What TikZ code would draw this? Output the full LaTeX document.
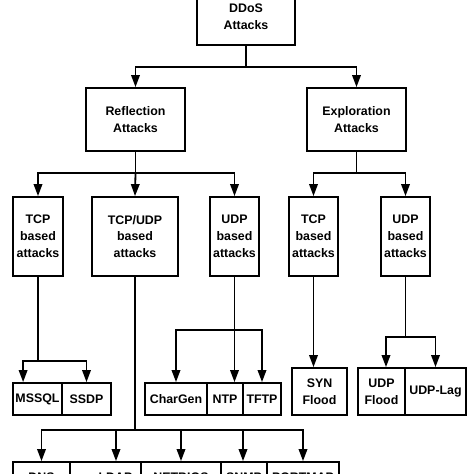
\documentclass[tikz,border=0pt]{standalone}
\usepackage{fontspec}
\setmainfont{Liberation Sans}
\usetikzlibrary{arrows.meta}
\begin{document}
\begin{tikzpicture}[x=1pt,y=1pt,
  box/.style={draw=black, line width=1.8pt, inner sep=0pt, align=center,
    font=\bfseries\fontsize{12.4}{16.8}\selectfont},
  conn/.style={draw=black, line width=1.8pt},
  arr/.style={conn, -{Triangle[length=12pt,width=8.5pt]}}]
\useasboundingbox (0,0) rectangle (474,-474);
\fill[white] (0,0) rectangle (474,-474);
% level 0
\node[box, minimum width=98pt, minimum height=57pt] (ddos) at (246,-16.5) {DDoS\\Attacks};
% level 1
\node[box, minimum width=99pt, minimum height=63pt] (refl) at (135.5,-119.5) {Reflection\\Attacks};
\node[box, minimum width=99pt, minimum height=63pt] (expl) at (356.5,-119.5) {Exploration\\Attacks};
% level 2
\node[box, minimum width=50pt, minimum height=79pt] (tcpa) at (38,-236.5) {TCP\\based\\attacks};
\node[box, minimum width=86pt, minimum height=79pt] (tcpudp) at (135,-236.5) {TCP/UDP\\based\\attacks};
\node[box, minimum width=49pt, minimum height=79pt] (udpa) at (234.5,-236.5) {UDP\\based\\attacks};
\node[box, minimum width=49pt, minimum height=79pt] (tcpb) at (313.5,-236.5) {TCP\\based\\attacks};
\node[box, minimum width=49pt, minimum height=79pt] (udpb) at (405.5,-236.5) {UDP\\based\\attacks};
% level 3
\node[box, minimum width=49pt, minimum height=32pt] (mssql) at (37.5,-399) {MSSQL};
\node[box, minimum width=49pt, minimum height=32pt] (ssdp) at (86.5,-399) {SSDP};
\node[box, minimum width=62pt, minimum height=32pt] (chargen) at (176,-399) {CharGen};
\node[box, minimum width=36pt, minimum height=32pt] (ntp) at (225,-399) {NTP};
\node[box, minimum width=38pt, minimum height=32pt] (tftp) at (262,-399) {TFTP};
\node[box, minimum width=55pt, minimum height=47pt] (syn) at (319.5,-391.5) {SYN\\Flood};
\node[box, minimum width=47pt, minimum height=47pt] (udpflood) at (381.5,-391.5) {UDP\\Flood};
\node[box, minimum width=61pt, minimum height=47pt] (udplag) at (435.5,-391.5) {UDP-Lag};
% bottom row (cut off by the page edge, as in the reference)
\node[box, minimum width=57pt, minimum height=30pt] (dns) at (41.5,-477) {DNS};
\node[box, minimum width=71pt, minimum height=30pt] (ldap) at (105.5,-477) {\hspace*{20pt}LDAP};
\node[box, minimum width=80pt, minimum height=30pt] (netbios) at (181,-477) {NETBIOS};
\node[box, minimum width=46pt, minimum height=30pt] (snmp) at (244,-477) {SNMP};
\node[box, minimum width=72pt, minimum height=30pt] (portmap) at (303,-477) {PORTMAP};
% junctions
\coordinate (j0) at (246,-67);
\coordinate (jr) at (135.5,-173);
\coordinate (je) at (356.5,-173);
\coordinate (j1) at (38,-361);
\coordinate (j2) at (234.5,-330);
\coordinate (j3) at (405.5,-337);
\coordinate (j4) at (135,-430);
% connectors
\draw[conn] (ddos.south) -- (j0);
\draw[arr] (j0) -| (refl.north);
\draw[arr] (j0) -| (expl.north);
\draw[conn] (refl.south) -- (jr);
\draw[arr] (jr) -| (tcpa.north);
\draw[arr] (jr) -- (tcpudp.north);
\draw[arr] (jr) -| (udpa.north);
\draw[conn] (expl.south) -- (je);
\draw[arr] (je) -| (tcpb.north);
\draw[arr] (je) -| (udpb.north);
\draw[conn] (tcpa.south) -- (j1);
\draw[arr] (j1) -| ([xshift=11pt]mssql.north west);
\draw[arr] (j1) -| (ssdp.north);
\draw[arr] (udpa.south) -- (udpa.south |- ntp.north);
\draw[arr] (j2) -| (chargen.north);
\draw[arr] (j2) -| (tftp.north);
\draw[arr] (tcpb.south) -- (tcpb.south |- syn.north);
\draw[conn] (udpb.south) -- (j3);
\draw[arr] (j3) -| ([xshift=4.5pt]udpflood.north);
\draw[arr] (j3) -| (udplag.north);
\draw[conn] (tcpudp.south) -- (j4);
\draw[arr] (j4) -| (dns.north);
\draw[arr] (j4) -| ([xshift=10.5pt]ldap.north);
\draw[arr] (j4) -| (netbios.north);
\draw[arr] (j4) -| ([xshift=-1pt]snmp.north);
\draw[arr] (j4) -| (portmap.north);
\end{tikzpicture}
\end{document}
